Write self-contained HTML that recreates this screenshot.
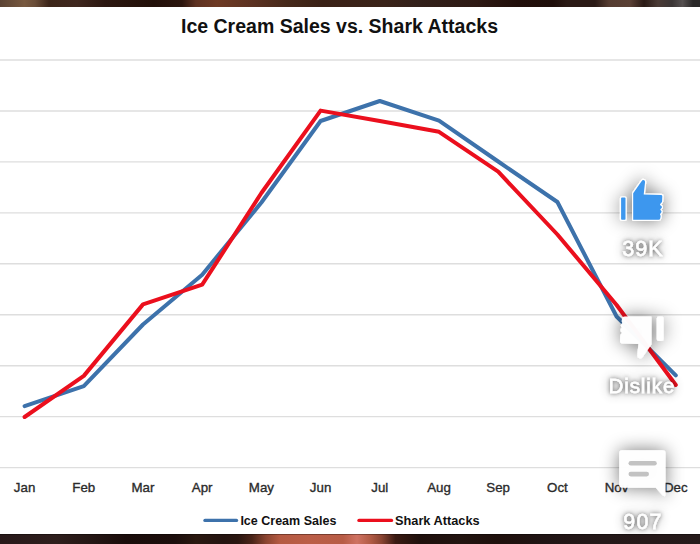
<!DOCTYPE html>
<html>
<head>
<meta charset="utf-8">
<style>
html,body{margin:0;padding:0;}
body{width:700px;height:544px;overflow:hidden;position:relative;background:#fff;font-family:"Liberation Sans",sans-serif;}
#top{position:absolute;left:0;top:0;width:700px;height:6.5px;background:linear-gradient(90deg,#5a4233 0%,#78593f 3.5%,#6a4d38 5%,#3c2519 7%,#3f271e 11%,#2c1811 15%,#221009 22%,#2c160e 26%,#5e3222 28%,#6e3a24 31%,#5c3222 36%,#46291a 41%,#3a2116 46%,#3a2319 55%,#32201a 60%,#2e1a14 68%,#210f0b 74%,#1f0e0a 79%,#2a1a15 81%,#2a1a15 85%,#553c31 87%,#5a4035 90%,#2a1a15 92%,#4a3a35 94%,#3a3535 96%,#555050 97.5%,#2a2828 99%,#2a2828 100%);}
#bot{position:absolute;left:0;top:534px;width:700px;height:10px;box-shadow:inset 0 1px 0 rgba(0,0,0,0.35);background:linear-gradient(90deg,#28191a 0%,#2e1e1c 8%,#251614 13%,#1a0c0a 18%,#1c0e0c 25%,#2a1810 28%,#241410 32%,#2a1610 34%,#4a2418 36%,#8a4430 38%,#b55a42 40%,#bb5e47 44%,#b85c46 49%,#cf7262 51%,#b05a44 53%,#8a4432 54.5%,#3a1a12 56.5%,#1f100c 60%,#221410 66%,#1f100c 71%,#201414 78%,#241818 86%,#261a1a 100%);}
svg{position:absolute;left:0;top:0;}
</style>
</head>
<body>
<div id="top"></div>
<svg width="700" height="544" viewBox="0 0 700 544">
  <g stroke="#dedede" stroke-width="1.4">
    <line x1="0" y1="60.00" x2="700" y2="60.00"/>
    <line x1="0" y1="110.95" x2="700" y2="110.95"/>
    <line x1="0" y1="161.90" x2="700" y2="161.90"/>
    <line x1="0" y1="212.85" x2="700" y2="212.85"/>
    <line x1="0" y1="263.80" x2="700" y2="263.80"/>
    <line x1="0" y1="314.75" x2="700" y2="314.75"/>
    <line x1="0" y1="365.70" x2="700" y2="365.70"/>
    <line x1="0" y1="416.65" x2="700" y2="416.65"/>
    <line x1="0" y1="467.60" x2="700" y2="467.60"/>
  </g>
  <text x="181" y="33" font-family="'Liberation Sans', sans-serif" font-weight="bold" font-size="20.7" fill="#111" textLength="317" lengthAdjust="spacingAndGlyphs">Ice Cream Sales vs. Shark Attacks</text>
  <polyline fill="none" stroke="#3d72ab" stroke-width="4" stroke-linejoin="round" stroke-linecap="round" points="24.6,406.1 83.8,386.1 143.0,324.5 202.2,274.7 261.4,202.5 320.6,121 379.8,101 439.0,120.7 498.2,161.5 557.4,202 616.6,316.5 675.8,375.3"/>
  <polyline fill="none" stroke="#eb0f1d" stroke-width="4" stroke-linejoin="round" stroke-linecap="round" points="24.6,417 83.8,375.9 143.0,304.4 202.2,284.7 261.4,193 320.6,110.6 379.8,121 439.0,131.8 498.2,171.7 557.4,234.5 616.6,305 675.8,385"/>
  <g font-family="'Liberation Sans', sans-serif" font-size="13.3" fill="#2b2b2b" stroke="#2b2b2b" stroke-width="0.35" text-anchor="middle">
    <text x="24.6" y="492">Jan</text>
    <text x="83.8" y="492">Feb</text>
    <text x="143.0" y="492">Mar</text>
    <text x="202.2" y="492">Apr</text>
    <text x="261.4" y="492">May</text>
    <text x="320.6" y="492">Jun</text>
    <text x="379.8" y="492">Jul</text>
    <text x="439.0" y="492">Aug</text>
    <text x="498.2" y="492">Sep</text>
    <text x="557.4" y="492">Oct</text>
    <text x="616.6" y="492">Nov</text>
    <text x="675.8" y="492">Dec</text>
  </g>
  <line x1="205" y1="520.4" x2="236.5" y2="520.4" stroke="#3d72ab" stroke-width="3.4" stroke-linecap="round"/>
  <text x="240.4" y="524.7" font-family="'Liberation Sans', sans-serif" font-weight="bold" font-size="13.1" fill="#111" textLength="96" lengthAdjust="spacingAndGlyphs">Ice Cream Sales</text>
  <line x1="359" y1="520.4" x2="391.5" y2="520.4" stroke="#eb0f1d" stroke-width="3.4" stroke-linecap="round"/>
  <text x="395" y="524.7" font-family="'Liberation Sans', sans-serif" font-weight="bold" font-size="13.1" fill="#111" textLength="84.6" lengthAdjust="spacingAndGlyphs">Shark Attacks</text>
</svg>

<svg width="700" height="544" viewBox="0 0 700 544" style="position:absolute;left:0;top:0">
  <defs>
    <filter id="sh" x="-50%" y="-50%" width="200%" height="200%">
      <feGaussianBlur in="SourceAlpha" stdDeviation="9" result="b"/>
      <feComponentTransfer in="b" result="b2"><feFuncA type="linear" slope="0.55"/></feComponentTransfer>
      <feMerge><feMergeNode in="b2"/><feMergeNode in="SourceGraphic"/></feMerge>
    </filter>
    <filter id="tsh" x="-50%" y="-80%" width="200%" height="260%">
      <feGaussianBlur in="SourceAlpha" stdDeviation="2.2" result="b"/>
      <feComponentTransfer in="b" result="b2"><feFuncA type="linear" slope="0.6"/></feComponentTransfer>
      <feGaussianBlur in="SourceAlpha" stdDeviation="6" result="c"/>
      <feComponentTransfer in="c" result="c2"><feFuncA type="linear" slope="0.45"/></feComponentTransfer>
      <feMerge><feMergeNode in="c2"/><feMergeNode in="b2"/><feMergeNode in="SourceGraphic"/></feMerge>
    </filter>
  </defs>
  <g id="up" filter="url(#sh)">
    <g fill="#fff" stroke="#fff" stroke-width="2.4" stroke-linejoin="round">
      <path d="M621.9,197.6 L624.7,197.6 Q625.5,197.6 625.5,198.4 L625.5,218.9 Q625.5,219.7 624.7,219.7 L621.9,219.7 Q621.1,219.7 621.1,218.9 L621.1,198.4 Q621.1,197.6 621.9,197.6 Z"/>
      <path d="M633.2,219.7 L633.2,193.2 L641.4,181.4 Q643,179 644.6,180.6 Q645.2,181.4 645,182.6 L643.7,194.4 L661.2,194.9 Q662.4,195 662.3,196.2 L662.1,201.2 C662,203 660,203.4 660,204.4 C660,205.4 662,205.6 661.9,207.2 C661.8,208.6 660.3,208.6 660.3,209.5 C660.3,210.4 661.6,210.4 661.5,211.8 C661.4,213.2 660,213.3 660,214.3 C660,215.2 660.8,215.3 660.6,216.6 L660.2,218.4 Q660,219.7 658.6,219.7 Z"/>
    </g>
    <g fill="#3d97ee">
      <path d="M621.9,197.6 L624.7,197.6 Q625.5,197.6 625.5,198.4 L625.5,218.9 Q625.5,219.7 624.7,219.7 L621.9,219.7 Q621.1,219.7 621.1,218.9 L621.1,198.4 Q621.1,197.6 621.9,197.6 Z"/>
      <path d="M633.2,219.7 L633.2,193.2 L641.4,181.4 Q643,179 644.6,180.6 Q645.2,181.4 645,182.6 L643.7,194.4 L661.2,194.9 Q662.4,195 662.3,196.2 L662.1,201.2 C662,203 660,203.4 660,204.4 C660,205.4 662,205.6 661.9,207.2 C661.8,208.6 660.3,208.6 660.3,209.5 C660.3,210.4 661.6,210.4 661.5,211.8 C661.4,213.2 660,213.3 660,214.3 C660,215.2 660.8,215.3 660.6,216.6 L660.2,218.4 Q660,219.7 658.6,219.7 Z"/>
    </g>
  </g>
  <g id="down" filter="url(#sh)">
    <g opacity="0.97" fill="#fff" stroke="#fff" stroke-width="2.4" stroke-linejoin="round" transform="translate(1283.5,537.3) rotate(180)">
      <path d="M621.9,197.6 L624.7,197.6 Q625.5,197.6 625.5,198.4 L625.5,218.9 Q625.5,219.7 624.7,219.7 L621.9,219.7 Q621.1,219.7 621.1,218.9 L621.1,198.4 Q621.1,197.6 621.9,197.6 Z"/>
      <path d="M633.2,219.7 L633.2,193.2 L641.4,181.4 Q643,179 644.6,180.6 Q645.2,181.4 645,182.6 L643.7,194.4 L661.2,194.9 Q662.4,195 662.3,196.2 L662.1,201.2 C662,203 660,203.4 660,204.4 C660,205.4 662,205.6 661.9,207.2 C661.8,208.6 660.3,208.6 660.3,209.5 C660.3,210.4 661.6,210.4 661.5,211.8 C661.4,213.2 660,213.3 660,214.3 C660,215.2 660.8,215.3 660.6,216.6 L660.2,218.4 Q660,219.7 658.6,219.7 Z"/>
    </g>
  </g>
  <g id="cm" filter="url(#sh)">
    <path fill="#fff" fill-opacity="0.97" d="M622.2,450.2 L662.5,450.2 Q665.5,450.2 665.5,453.2 L665.5,493.5 Q665.5,497.6 662.6,495.3 L655.8,487.7 L622.2,487.7 Q619.2,487.7 619.2,484.7 L619.2,453.2 Q619.2,450.2 622.2,450.2 Z"/>
  </g>
  <g stroke="#c2c2c2" stroke-width="4.6" stroke-linecap="round">
    <line x1="630.8" y1="463.3" x2="654.5" y2="463.3"/>
    <line x1="630.8" y1="474.1" x2="646.7" y2="474.1"/>
  </g>
  <g font-family="'Liberation Sans', sans-serif" fill="#fff" stroke="#fff" stroke-width="0.35" text-anchor="middle" filter="url(#tsh)">
    <text x="643" y="256.3" font-size="21.6" letter-spacing="1">39K</text>
    <text x="641.9" y="393.2" font-size="20.5" letter-spacing="0.95">Dislike</text>
    <text x="643" y="529.4" font-size="21.4" letter-spacing="1.2">907</text>
  </g>
</svg>
<div id="bot"></div>
</body>
</html>
